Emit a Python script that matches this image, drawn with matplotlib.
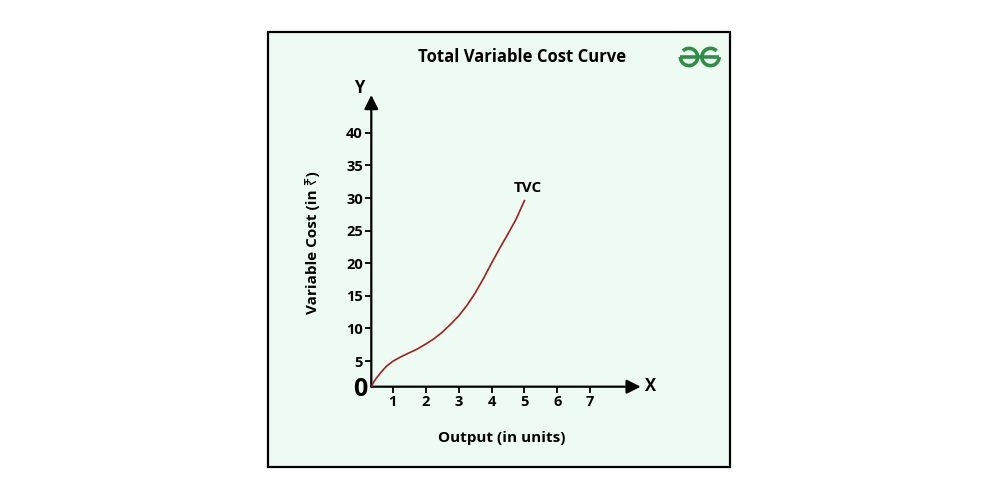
import matplotlib
matplotlib.use("Agg")
import matplotlib.pyplot as plt
from matplotlib.patches import Rectangle, Arc

plt.rcParams['font.family'] = ['Open Sans', 'Noto Sans', 'DejaVu Sans']

# ---- data ----
output_units = [0.35, 0.42, 0.5, 0.65, 0.8, 1.0, 1.25, 1.5, 1.75, 2.0, 2.25, 2.5, 2.75,
                3.0, 3.25, 3.5, 3.75, 4.0, 4.25, 4.5, 4.75, 5.0]
tvc_values = [1.06, 1.75, 2.35, 3.3, 4.15, 4.95, 5.65, 6.25, 6.85, 7.6, 8.4, 9.4, 10.6,
              11.9, 13.5, 15.4, 17.6, 20.0, 22.3, 24.5, 26.8, 29.6]
x_ticks = [1, 2, 3, 4, 5, 6, 7]
y_ticks = [5, 10, 15, 20, 25, 30, 35, 40]
title = "Total Variable Cost Curve"
x_label = "Output (in units)"
y_label = "Variable Cost (in ₹)"
curve_label = "TVC"

W, H = 1000, 500
fig = plt.figure(figsize=(W / 100, H / 100), dpi=100)
fig.patch.set_facecolor('white')

# background overlay axes in pixel coords
bg = fig.add_axes([0, 0, 1, 1])
bg.set_xlim(0, W)
bg.set_ylim(0, H)
bg.axis('off')
def Y(y):
    return H - y

bg.add_patch(Rectangle((268, Y(467)), 462, 435, facecolor='#eefbf3',
                       edgecolor='black', lw=1.6, zorder=0))

# logo
green = '#2f8d46'
r = 8.6
lc, rc, cy = (689.0, 57.0), (710.5, 57.0), 57.0
bg.add_patch(Arc((lc[0], Y(cy)), 2 * r, 2 * r, theta1=-180, theta2=135,
                 color=green, lw=2.6))
bg.add_patch(Arc((rc[0], Y(cy)), 2 * r, 2 * r, theta1=45, theta2=360,
                 color=green, lw=2.6))
bg.plot([lc[0] - r, rc[0] + r], [Y(cy), Y(cy)], color=green, lw=2.6,
        solid_capstyle='butt')

# main axes
x0, y0, x1, y1 = 371.3, 386.7, 640.7, 95.0
ax = fig.add_axes([x0 / W, 1 - y0 / H, (x1 - x0) / W, (y0 - y1) / H])
ax.set_facecolor('none')
ax.set_xlim(0.35, 8.53)
ax.set_ylim(1.06, 45.8)
for s in ax.spines.values():
    s.set_visible(False)

ax.annotate('', xy=(1, 0), xytext=(0, 0), xycoords='axes fraction',
            arrowprops=dict(arrowstyle='-|>,head_length=0.6,head_width=0.3',
                            color='black', lw=1.6, shrinkA=0, shrinkB=0,
                            mutation_scale=14))
ax.annotate('', xy=(0, 1), xytext=(0, 0), xycoords='axes fraction',
            arrowprops=dict(arrowstyle='-|>,head_length=0.6,head_width=0.3',
                            color='black', lw=1.6, shrinkA=0, shrinkB=0,
                            mutation_scale=14))

ax.plot(output_units, tvc_values, color='#a11f1f', lw=1.2, zorder=3)

ax.set_xticks(x_ticks)
ax.set_xticklabels([str(t) for t in x_ticks])
ax.set_yticks(y_ticks)
ax.set_yticklabels([str(t) for t in y_ticks])
ax.tick_params(axis='both', length=4.5, width=1.3, color='black',
               labelsize=10.5, pad=1.5)
for lab in ax.get_xticklabels() + ax.get_yticklabels():
    lab.set_fontweight('bold')

ax.text(5.1, 30.4, curve_label, fontsize=11, fontweight='bold',
        ha='center', va='bottom')

def ftext(x, y, s, **kw):
    fig.text(x / W, 1 - y / H, s, **kw)

ftext(522, 57, title, fontsize=12, fontweight='bold', ha='center', va='center')
ftext(502, 438, x_label, fontsize=11, fontweight='bold', ha='center', va='center')
ftext(313, 243, y_label, fontsize=11, fontweight='bold', ha='center', va='center',
      rotation=90)
ftext(360, 390, '0', fontsize=18, fontweight='bold', ha='center', va='center')
ftext(359, 88, 'Y', fontsize=12, fontweight='bold', ha='center', va='center')
ftext(651, 386, 'X', fontsize=12, fontweight='bold', ha='center', va='center')

fig.savefig('out.png', dpi=100, facecolor='white')
